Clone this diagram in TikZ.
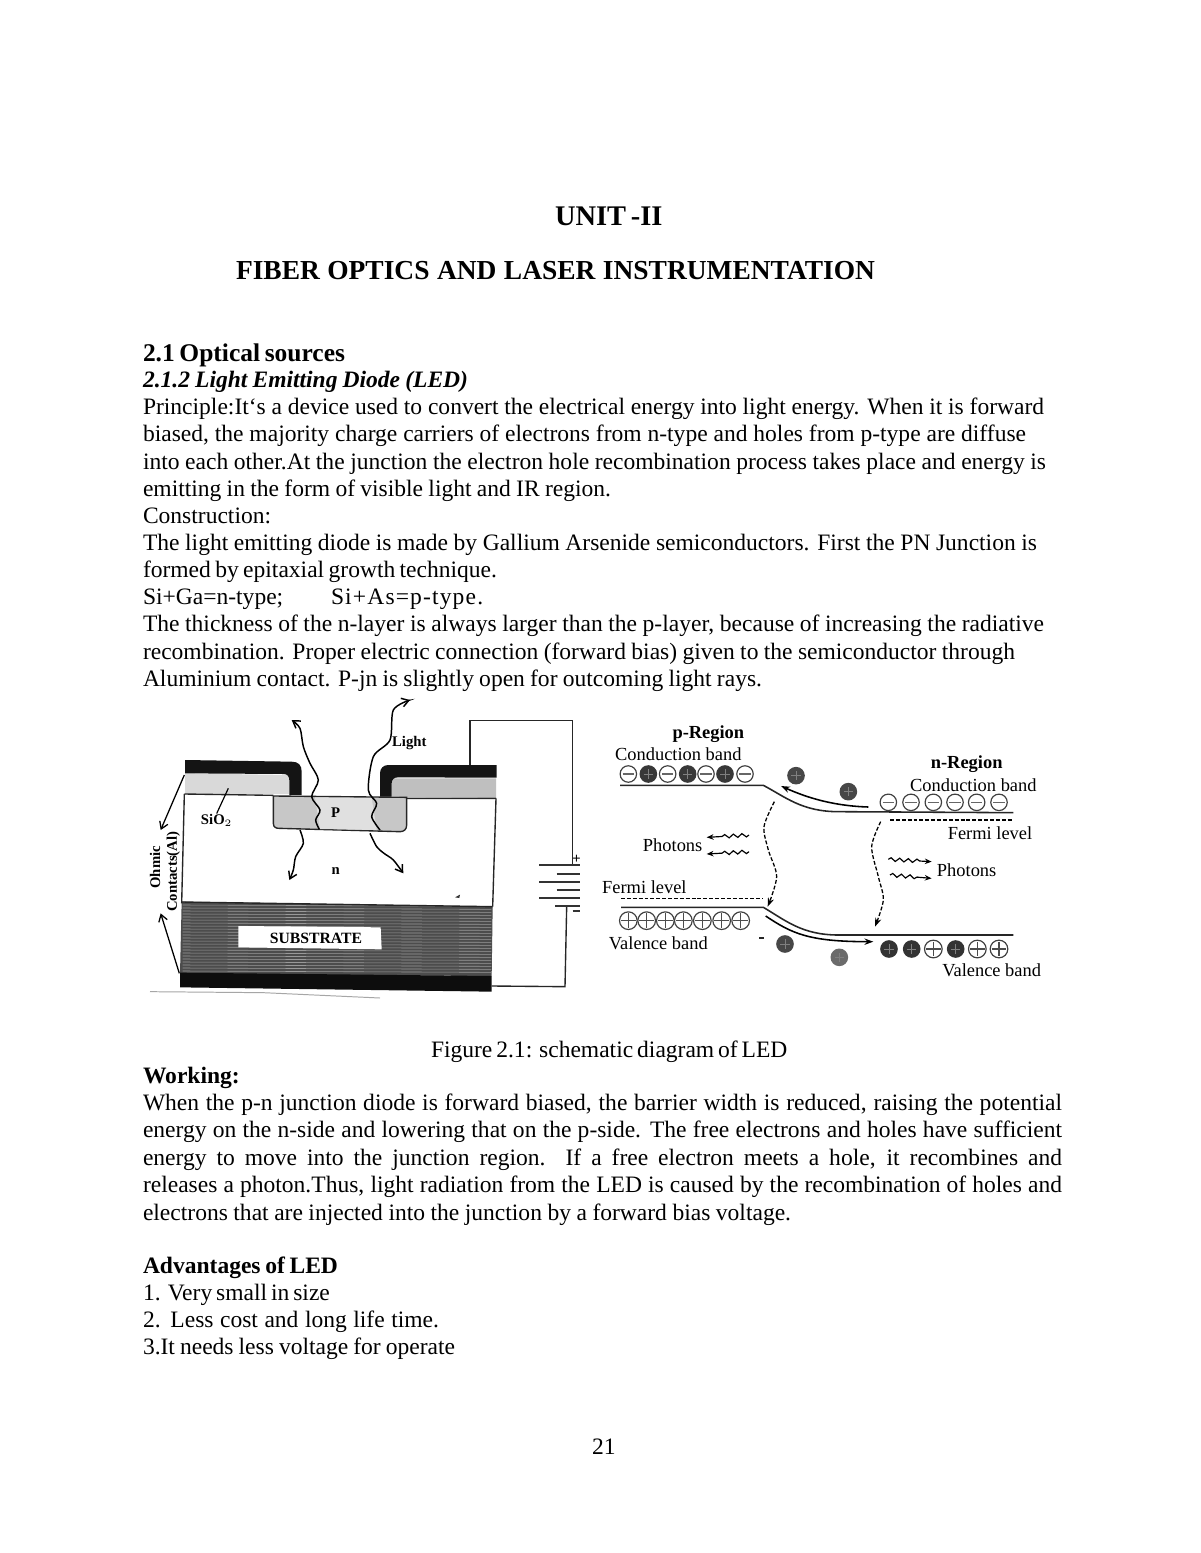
\documentclass[tikz,border=0pt]{standalone}
\usepackage{fontspec}
\setmainfont{Liberation Serif}
\usetikzlibrary{arrows.meta,decorations.pathmorphing}
\newcommand{\lnbox}[2]{\makebox[\dimexpr0.51pt*#1\relax][s]{\strut #2}}
\tikzset{
  txt/.style={anchor=base west,inner sep=0pt,outer sep=0pt,font=\fontsize{12}{14}\selectfont},
  head/.style={txt,font=\fontsize{14}{16}\selectfont\bfseries},
  bhead/.style={txt,font=\fontsize{12}{14}\selectfont\bfseries},
  dlab/.style={inner sep=0pt,font=\fontsize{7.5}{9}\selectfont\bfseries},
  rlab/.style={inner sep=0pt,font=\fontsize{9.4}{11}\selectfont},
  rbold/.style={inner sep=0pt,font=\fontsize{9.4}{11}\selectfont\bfseries},
  ray/.style={line width=.75pt,-{Straight Barb[length=3.5pt,width=4.5pt]}},
  wavy/.style={line width=.6pt,decorate,decoration={snake,amplitude=.9pt,segment length=4.4pt,post length=6pt},-{Stealth[length=3.5pt,width=2.8pt]}},
  band/.style={line width=.8pt,black!85},
  flow/.style={line width=.8pt,-{Stealth[length=4.5pt,width=3.2pt]}},
  dashline/.style={line width=.65pt,dash pattern=on 2pt off 1pt},
  wire/.style={line width=.7pt,black!85}
}
\newcommand{\mcirc}[2]{\draw[line width=.6pt,black!75,fill=white] (#1,#2) circle[radius=4.2pt]; \draw[line width=.6pt,black!60] (#1-17,#2) -- (#1+17,#2);}
\newcommand{\pcirc}[2]{\draw[line width=.6pt,black!75,fill=white] (#1,#2) circle[radius=4.5pt]; \draw[line width=.6pt,black!70] (#1-22,#2) -- (#1+22,#2) (#1,#2-22) -- (#1,#2+22);}
\newcommand{\fcirc}[3]{\fill[black!#3] (#1,#2) circle[radius=4.5pt]; \draw[line width=.3pt,black!50] (#1-14,#2) -- (#1+14,#2) (#1,#2-14) -- (#1,#2+14);}
\begin{document}
\begin{tikzpicture}[x=0.51pt,y=-0.51pt]
\useasboundingbox (0,0) rectangle (1200,1553);
\fill[white] (0,0) rectangle (1200,1553);
% ---- text
\node[head,font=\fontsize{14.5}{16}\selectfont\bfseries] (t1) at (555,225) {\lnbox{107}{UNIT -II}};
\node[head] (t2) at (236,279) {\lnbox{639}{FIBER OPTICS AND LASER INSTRUMENTATION}};
\node[head,font=\fontsize{13}{16}\selectfont\bfseries] (t3) at (143,361) {\lnbox{202}{2.1 Optical sources}};
\node[bhead] (t4) at (143,387) {\lnbox{325}{\itshape 2.1.2 Light Emitting Diode (LED)}};
\node[txt] (a1) at (143,414) {\lnbox{901}{Principle:It‘s a device used to convert the electrical energy into light energy. When it is forward}};
\node[txt] (a2) at (143,441) {\lnbox{883}{biased, the majority charge carriers of electrons from n-type and holes from p-type are diffuse}};
\node[txt] (a3) at (143,469) {\lnbox{903}{into each other.At the junction the electron hole recombination process takes place and energy is}};
\node[txt] (a4) at (143,496) {\lnbox{468}{emitting in the form of visible light and IR region.}};
\node[txt] (a5) at (143,523) {\lnbox{111}{Construction:}};
\node[txt] (a6) at (143,550) {\lnbox{894}{The light emitting diode is made by Gallium Arsenide semiconductors. First the PN Junction is}};
\node[txt] (a7) at (143,577) {\lnbox{354}{formed by epitaxial growth technique.}};
\node[txt] (a8) at (143,604) {Si+Ga=n-type;};
\node[txt] (a9) at (331,604) {\addfontfeature{LetterSpace=4.9}Si+As=p-type.};
\node[txt] (a10) at (143,631) {\lnbox{901}{The thickness of the n-layer is always larger than the p-layer, because of increasing the radiative}};
\node[txt] (a11) at (143,659) {\lnbox{872}{recombination. Proper electric connection (forward bias) given to the semiconductor through}};
\node[txt] (a12) at (143,686) {\lnbox{619}{Aluminium contact. P-jn is slightly open for outcoming light rays.}};
\node[txt] (cap) at (431,1057) {\lnbox{347}{Figure 2.1: schematic diagram of LED}};
\node[bhead] (w0) at (143,1083) {\lnbox{96}{Working:}};
\node[txt] (w1) at (143,1110) {\lnbox{919}{When the p-n junction diode is forward biased, the barrier width is reduced, raising the potential}};
\node[txt] (w2) at (143,1137) {\lnbox{919}{energy on the n-side and lowering that on the p-side. The free electrons and holes have sufficient}};
\node[txt] (w3) at (143,1165) {\lnbox{919}{energy to move into the junction region. If a free electron meets a hole, it recombines and}};
\node[txt] (w4) at (143,1192) {\lnbox{919}{releases a photon.Thus, light radiation from the LED is caused by the recombination of holes and}};
\node[txt] (w5) at (143,1220) {\lnbox{648}{electrons that are injected into the junction by a forward bias voltage.}};
\node[bhead] (b0) at (143,1273) {\lnbox{195}{Advantages of LED}};
\node[txt] (b1) at (143,1300) {\lnbox{185}{1. Very small in size}};
\node[txt] (b2) at (143,1327) {\lnbox{296}{2. Less cost and long life time.}};
\node[txt] (b3) at (143,1354) {\lnbox{312}{3.It needs less voltage for operate}};
\node[txt] (pg) at (592,1454) {21};
% ---- left figure
\begin{scope}[shift={(130,690)},x=.17pt,y=-.17pt]
  % substrate
  \fill[black!70] (155,635) -- (1088,650) -- (1085,858) -- (150,852) -- cycle;
  \foreach \yy in {645,654,...,850} \draw[black!40,line width=.3pt] (158,\yy) -- (1084,\yy+4);
  \fill[white] (325,708) -- (752,712) -- (755,778) -- (325,772) -- cycle;
  \node[dlab,font=\fontsize{8}{9}\selectfont\bfseries] (subs) at (558,745) {SUBSTRATE};
  % n body outline
  \draw[wire] (163,312) -- (155,640) (1098,325) -- (1088,650);
  \draw[wire] (155,636) -- (1088,650);
  % SiO2
  \fill[black!15] (165,250) -- (478,255) -- (478,312) -- (165,312) -- cycle;
  \fill[black!25] (785,265) -- (1098,265) -- (1098,323) -- (785,320) -- cycle;
  \draw[wire] (163,312) -- (430,316) (830,325) -- (1098,325);
  % P region
  \draw[wire,fill=black!22] (430,318) -- (430,400) .. controls (430,412) and (438,415) .. (448,415) -- (810,425) .. controls (822,425) and (830,418) .. (830,405) -- (830,322) -- cycle;
  \fill[black!12] (555,322) -- (725,324) -- (740,420) -- (570,417) -- cycle;
  % contacts
  \fill[black!92] (165,210) -- (485,215) .. controls (505,215) and (515,225) .. (515,245) -- (515,315) -- (478,315) -- (478,272) .. controls (478,258) and (472,252) .. (460,252) -- (165,250) -- cycle;
  \fill[black!92] (775,225) -- (1100,225) -- (1100,263) -- (805,262) .. controls (792,262) and (785,268) .. (785,280) -- (785,320) -- (750,320) -- (750,250) .. controls (750,235) and (760,225) .. (775,225) -- cycle;
  \fill[black!95] (150,848) -- (1085,858) -- (1085,905) -- (150,892) -- cycle;
  \draw[black!35,line width=.5pt] (60,905) -- (400,908) -- (750,924);
  % rays
  \draw[ray] plot[smooth] coordinates {(568,418) (557,390) (570,360) (545,320) (565,270) (540,220) (520,170) (510,115) (485,90)};
  \draw[ray] plot[smooth] coordinates {(510,420) (520,460) (497,500) (490,540) (478,570)};
  \draw[ray] plot[smooth] coordinates {(750,420) (725,380) (740,340) (715,300) (730,200) (780,150) (790,60) (840,30)};
  \draw[ray] plot[smooth] coordinates {(720,430) (740,470) (762,490) (790,510) (820,550)};
  % labels
  \node[dlab] (light) at (838,158) {Light};
  \node[dlab] (pp) at (617,368) {P};
  \node[dlab] (nn) at (617,543) {n};
  \node[dlab] (sio) at (260,390) {SiO$_2$};
  \draw[line width=.6pt] (295,295) -- (sio.north);
  \node[dlab,rotate=90] (oh) at (75,532) {Ohmic};
  \node[dlab,rotate=90] (co) at (130,545) {Contacts(Al)};
  \draw[line width=.65pt,-{Straight Barb[length=3.5pt,width=4.5pt]}] (163,255) -- (92,420);
  \draw[line width=.65pt,-{Straight Barb[length=3.5pt,width=4.5pt]}] (148,850) -- (92,670);
  % circuit
  \draw[wire] (1020,225) -- (1020,92) -- (1328,92) -- (1328,525);
  \draw[wire] (1310,650) -- (1305,890) -- (1085,888);
  \foreach \aa/\yy in {1228/525,1280/553,1228/577,1280/600,1228/623,1275/648} \draw[line width=.9pt,black!80] (\aa,\yy) -- (1350,\yy);
  \node[dlab] (plus) at (1340,508) {+};
  \draw[line width=.9pt,black!80] (1328,662) -- (1350,662);
  \fill[black!80] (975,622) -- (990,614) -- (988,624) -- cycle;
\end{scope}
% ---- right figure
\begin{scope}[shift={(595,710)},x=.17pt,y=-.17pt]
  \node[rbold] (pr) at (340,72) {p-Region};
  \node[rlab] (cb1) at (250,133) {Conduction band};
  \node[rbold] (nr) at (1115,162) {n-Region};
  \node[rlab] (cb2) at (1135,225) {Conduction band};
  \node[rlab] (fl1) at (1185,370) {Fermi level};
  \node[rlab] (fl2) at (148,532) {Fermi level};
  \node[rlab] (vb1) at (190,700) {Valence band};
  \node[rlab] (vb2) at (1190,782) {Valence band};
  \node[rlab] (ph1) at (233,405) {Photons};
  \node[rlab] (ph2) at (1115,482) {Photons};
  % conduction row
  \foreach \xx in {100,218,333,450} {\mcirc{\xx}{192}}
  \foreach \xx in {160,278,390} {\fcirc{\xx}{192}{78}}
  \fcirc{603}{197}{72}
  \fcirc{760}{245}{72}
  \foreach \xx in {880,948,1015,1080,1145,1212} {\mcirc{\xx}{277}}
  % bands
  \draw[band] (75,226) -- (505,226) .. controls (570,260) and (620,305) .. (730,305) -- (1255,308);
  \draw[flow] (820,291) .. controls (720,288) and (640,265) .. (558,228);
  \draw[dashline] (885,330) -- (1255,330);
  \draw[dashline] (78,566) -- (505,566);
  \draw[band] (78,592) -- (505,592) .. controls (570,630) and (620,675) .. (730,675) -- (1255,675);
  \draw[flow] (512,618) .. controls (590,670) and (640,695) .. (835,695);
  % dashed arrows
  \draw[dashline,-{Stealth[length=4.5pt,width=3.2pt]}] plot[smooth] coordinates {(538,275) (507,350) (520,420) (545,500) (518,590)};
  \draw[dashline,-{Stealth[length=4.5pt,width=3.2pt]}] plot[smooth] coordinates {(857,335) (830,410) (850,500) (865,570) (840,650)};
  % photons
  \draw[wavy] (462,375) -- (335,382);
  \draw[wavy] (462,425) -- (335,432);
  \draw[wavy] (880,448) -- (1010,455);
  \draw[wavy] (885,495) -- (1010,505);
  % valence rows
  \foreach \xx in {100,155,211,265,322,380,437} {\pcirc{\xx}{632}}
  \fcirc{570}{702}{72}
  \fcirc{733}{742}{58}
  \foreach \xx in {882,950,1082} {\fcirc{\xx}{717}{80}}
  \foreach \xx in {1015,1147,1212} {\pcirc{\xx}{717}}
  \fill[black!85] (492,682) rectangle (506,688);
\end{scope}
\end{tikzpicture}
\end{document}
